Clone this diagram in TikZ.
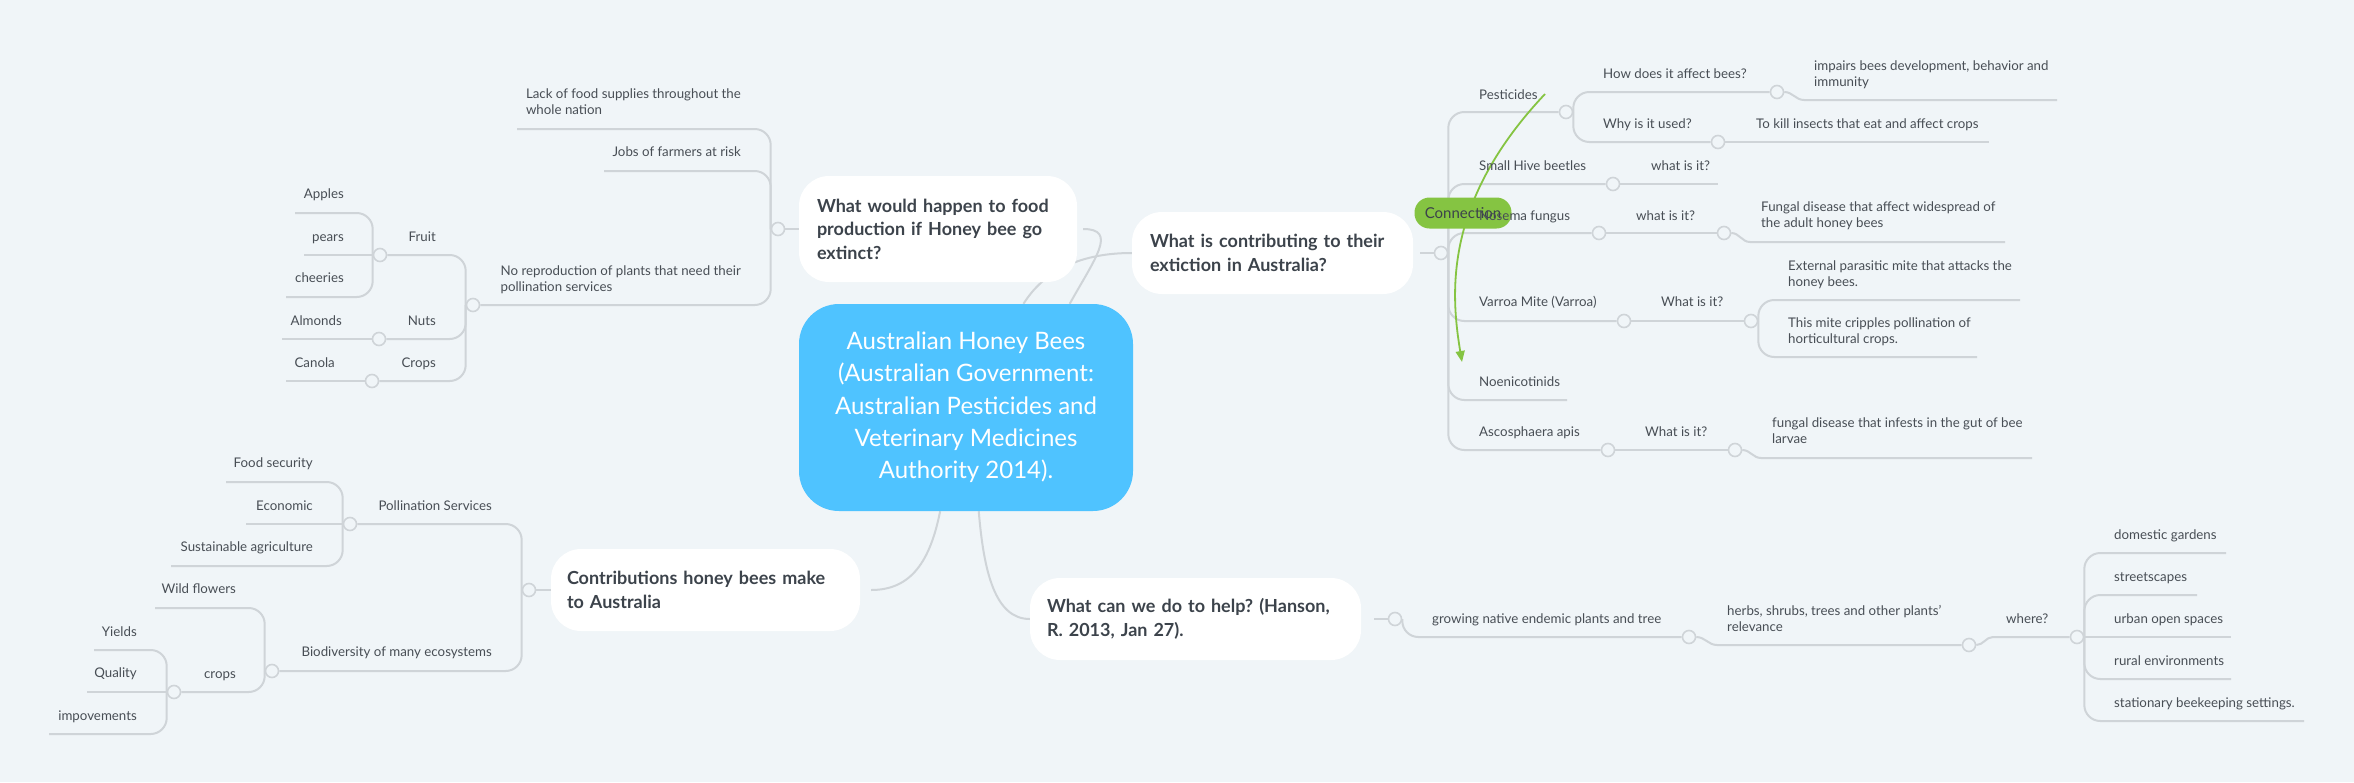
\documentclass[tikz,border=0pt]{standalone}
\usepackage{fontspec}
\setmainfont{Lato}
\usetikzlibrary{arrows.meta}
\definecolor{bg}{RGB}{240,245,248}
\definecolor{ln}{RGB}{207,212,216}
\definecolor{ink}{RGB}{60,67,75}
\definecolor{leafink}{RGB}{72,78,85}
\definecolor{hubblue}{RGB}{79,195,255}
\definecolor{conngreen}{RGB}{133,196,66}
\pgfdeclarelayer{back}
\pgfsetlayers{back,main}
\frenchspacing

\begin{document}
\begin{tikzpicture}
[x=1pt,y=-1pt,
 branch/.style={draw=ln,line width=2pt,rounded corners=16pt},
 slant/.style={branch,sharp corners},
 dot/.style={circle,draw=ln,line width=1.6pt,fill=bg,minimum size=13pt,inner sep=0pt},
 leaf/.style={text=leafink,font=\fontsize{13.3}{16}\selectfont,inner sep=0pt,align=left,anchor=base west},
 leafl/.style={leaf,anchor=base east},
 topic/.style={fill=white,text=ink,rounded corners=30pt,font=\bfseries\fontsize{18}{23.5}\selectfont,align=left,inner xsep=18pt,minimum height=82pt},
 hubbox/.style={fill=hubblue,text=white,rounded corners=40pt,minimum width=334pt,minimum height=207pt,align=center,font=\fontsize{24}{32.3}\selectfont},
 conn/.style={draw=conngreen,line width=1.8pt,-{Triangle[length=11pt,width=9pt]}},
 connlabel/.style={fill=conngreen,text=ink,rounded corners=15pt,minimum width=97pt,minimum height=31pt,font=\fontsize{15}{18}\selectfont}]

\begin{pgfonlayer}{back}
\fill[bg] (0,0) rectangle (2354,782); %paper
\end{pgfonlayer}
\useasboundingbox (0,0) rectangle (2354,782);

% main topics
\node[hubbox] (hub) at (966,407.5) {Australian Honey Bees\\(Australian Government:\\Australian Pesticides and\\Veterinary Medicines\\Authority 2014).};
\node[topic,text width=242pt,minimum height=106pt] (food) at (938,229) {What would happen to food\\production if Honey bee go\\extinct?};
\node[topic,text width=245pt] (why) at (1272.5,253) {What is contributing to their\\extiction in Australia?};
\node[topic,text width=277pt,inner xsep=16pt] (contrib) at (705.5,590) {Contributions honey bees make\\to Australia};
\node[topic,text width=297pt,inner xsep=17pt] (help) at (1195.5,619) {What can we do to help? (Hanson,\\R. 2013, Jan 27).};

% dots
\node[dot] (rdot) at (1441,253) {};
\node[dot] (pdot) at (1566,112) {};
\node[dot] (adot) at (1777,92) {};
\node[dot] (udot) at (1718,142) {};
\node[dot] (sdot) at (1613,184) {};
\node[dot] (ndot) at (1599,233) {};
\node[dot] (ndotb) at (1724,233) {};
\node[dot] (vdot) at (1624,321) {};
\node[dot] (vdotb) at (1751,321) {};
\node[dot] (asdot) at (1608,450) {};
\node[dot] (asdotb) at (1735,450) {};
\node[dot] (fdot) at (778,229) {};
\node[dot] (nrdot) at (473,305) {};
\node[dot] (frdot) at (380,255) {};
\node[dot] (nudot) at (379,339) {};
\node[dot] (crdot) at (372,381) {};
\node[dot] (cdot) at (529,590) {};
\node[dot] (podot) at (350,524) {};
\node[dot] (bidot) at (272,671) {};
\node[dot] (crpdot) at (174,692) {};
\node[dot] (hdot) at (1395,619) {};
\node[dot] (gdot) at (1689,637) {};
\node[dot] (hbdot) at (1969,645) {};
\node[dot] (wdot) at (2077,637) {};

% free ends of the underlines
\coordinate (impair) at (2057,100);
\coordinate (kill) at (1989,142);
\coordinate (hive) at (1718,184);
\coordinate (nosema) at (2005,242);
\coordinate (mite) at (2020,300);
\coordinate (cripple) at (1977,357);
\coordinate (neo) at (1567,400);
\coordinate (gut) at (2032,458);
\coordinate (lack) at (517,129);
\coordinate (jobs) at (604,171);
\coordinate (apples) at (295,213);
\coordinate (pears) at (304,255);
\coordinate (cheer) at (286,297);
\coordinate (almond) at (282,339);
\coordinate (canola) at (286,381);
\coordinate (foodsec) at (226,482);
\coordinate (econ) at (246,524);
\coordinate (sustain) at (171,566);
\coordinate (wild) at (155,608);
\coordinate (yields) at (94,650);
\coordinate (quality) at (87,692);
\coordinate (improve) at (49,734);
\coordinate (gardens) at (2226,553);
\coordinate (streets) at (2197,595);
\coordinate (urban) at (2231,637);
\coordinate (rural) at (2231,679);
\coordinate (station) at (2304,721);

\begin{pgfonlayer}{back}
\draw[slant] (hub.45) .. controls +(25,-45) and +(35,0) .. ([xshift=6pt]food.east);
\draw[slant] (hub.61) .. controls +(25,-40) and +(-40,0) .. (why.west);
\draw[slant] (hub.-104) .. controls +(-10,50) and +(40,0) .. ([xshift=11pt]contrib.east);
\draw[slant] (hub.-83) .. controls +(5,60) and +(-35,0) .. (help.west);

\draw[branch,shorten <=7pt] (why) -- (rdot);
\draw[branch] (rdot.east) |- (pdot); %pesticides
\draw[branch] (pdot.east) |- (adot);
\draw[slant] (adot) to[out=0,in=180] ++(27,8) -- (impair);
\draw[branch] (pdot.east) |- (udot);
\draw[branch] (udot) -- (kill);
\draw[branch] (rdot.east) |- (sdot); %beetles
\draw[branch] (sdot) -- (hive);
\draw[branch] (rdot.east) |- (ndot); %nosema
\draw[branch] (ndot) -- (ndotb);
\draw[slant] (ndotb) to[out=0,in=180] ++(26,9) -- (nosema);
\draw[branch] (rdot.east) |- (vdot); %varroa
\draw[branch] (vdot) -- (vdotb);
\draw[branch] (vdotb.east) |- (mite);
\draw[branch] (vdotb.east) |- (cripple);
\draw[branch] (rdot.east) |- (neo);
\draw[branch] (rdot.east) |- (asdot); %ascosphaera
\draw[branch] (asdot) -- (asdotb);
\draw[slant] (asdotb) to[out=0,in=180] ++(26,8) -- (gut);

\draw[branch] (food) -- (fdot);
\draw[branch] (fdot.west) |- (lack);
\draw[branch] (fdot.west) |- (jobs);
\draw[branch] (fdot.west) |- (nrdot);
\draw[branch] (nrdot.west) |- (frdot); %fruit
\draw[branch] (frdot.west) |- (apples);
\draw[branch] (frdot) -- (pears);
\draw[branch] (frdot.west) |- (cheer);
\draw[branch] (nrdot.west) |- (nudot); %nuts
\draw[branch] (nudot) -- (almond);
\draw[branch] (nrdot.west) |- (crdot); %crops
\draw[branch] (crdot) -- (canola);

\draw[branch] (contrib) -- (cdot);
\draw[branch] (cdot.west) |- (podot); %pollination
\draw[branch] (podot.west) |- (foodsec);
\draw[branch] (podot) -- (econ);
\draw[branch] (podot.west) |- (sustain);
\draw[branch] (cdot.west) |- (bidot); %biodiversity
\draw[branch] (bidot.west) |- (wild);
\draw[branch] (bidot.west) |- (crpdot);
\draw[branch] (crpdot.west) |- (yields);
\draw[branch] (crpdot) -- (quality);
\draw[branch] (crpdot.west) |- (improve);

\draw[branch,shorten <=13pt] (help) -- (hdot);
\draw[branch] (hdot.east) |- (gdot);
\draw[slant] (gdot) to[out=0,in=180] ++(28,8) -- (hbdot);
\draw[slant] (hbdot) to[out=0,in=180] ++(24,-8) -- (wdot);
\draw[branch] (wdot.east) |- (gardens);
\draw[branch] (wdot.east) |- (streets);
\draw[branch] (wdot) -- (urban);
\draw[branch] (wdot.east) |- (rural);
\draw[branch] (wdot.east) |- (station);
\end{pgfonlayer}

% connection
\coordinate (cfrom) at (1545,94);
\coordinate (cto) at (1462,362);
\draw[conn] (cfrom) .. controls (1445,200) and (1450,290) .. (cto);
\node[connlabel] (clabel) at (1463,213) {Connection};

% right side texts
\node[leaf] (pest) at (1479,99) {Pesticides};
\node[leaf] (howq) at (1603,78) {How does it affect bees?};
\node[leaf] (impairt) at (1814,86.5) {impairs bees development, behavior and\\immunity};
\node[leaf] (whyq) at (1603,128) {Why is it used?};
\node[leaf] (killt) at (1756,128) {To kill insects that eat and affect crops};
\node[leaf] (hivet) at (1479,170.5) {Small Hive beetles};
\node[leaf] (hiveq) at (1651,170.5) {what is it?};
\node[leaf] (nost) at (1479,220.5) {Nosema fungus};
\node[leaf] (nosq) at (1636,220.5) {what is it?};
\node[leaf] (nosa) at (1761,227.5) {Fungal disease that affect widespread of\\the adult honey bees};
\node[leaf] (vart) at (1479,306.5) {Varroa Mite (Varroa)};
\node[leaf] (varq) at (1661,306.5) {What is it?};
\node[leaf] (mitet) at (1788,286.5) {External parasitic mite that attacks the\\honey bees.};
\node[leaf] (cript) at (1788,343.5) {This mite cripples pollination of\\horticultural crops.};
\node[leaf] (neot) at (1479,386.5) {Noenicotinids};
\node[leaf] (asct) at (1479,436.5) {Ascosphaera apis};
\node[leaf] (ascq) at (1645,436.5) {What is it?};
\node[leaf] (gutt) at (1772,443.5) {fungal disease that infests in the gut of bee\\larvae};

% left top texts
\node[leafl] (lackt) at (741,114.5) {Lack of food supplies throughout the\\whole nation};
\node[leafl] (jobst) at (741,156.5) {Jobs of farmers at risk};
\node[leafl] (nrt) at (741,291.5) {No reproduction of plants that need their\\pollination services};
\node[leafl] (fruitt) at (436,241.5) {Fruit};
\node[leafl] (applet) at (344,198.5) {Apples};
\node[leafl] (peart) at (344,241.5) {pears};
\node[leafl] (cheert) at (344,282.5) {cheeries};
\node[leafl] (nutst) at (436,325.5) {Nuts};
\node[leafl] (almondt) at (342,325.5) {Almonds};
\node[leafl] (cropst) at (436,367.5) {Crops};
\node[leafl] (canolat) at (335,367.5) {Canola};

% left bottom texts
\node[leafl] (pollt) at (492,510.5) {Pollination Services};
\node[leafl] (foodsect) at (313,467.5) {Food security};
\node[leafl] (econt) at (313,510.5) {Economic};
\node[leafl] (sustaint) at (313,551.5) {Sustainable agriculture};
\node[leafl] (biot) at (492,656.5) {Biodiversity of many ecosystems};
\node[leafl] (wildt) at (236,593.5) {Wild flowers};
\node[leafl] (crpt) at (236,678.5) {crops};
\node[leafl] (yieldt) at (137,636.5) {Yields};
\node[leafl] (qualt) at (137,677.5) {Quality};
\node[leafl] (impt) at (137,720.5) {impovements};

% bottom right texts
\node[leaf] (growt) at (1432,623.5) {growing native endemic plants and tree};
\node[leaf] (herbt) at (1727,631.5) {herbs, shrubs, trees and other plants'\\relevance};
\node[leaf] (wheret) at (2006,623.5) {where?};
\node[leaf] (gardt) at (2114,539.5) {domestic gardens};
\node[leaf] (streett) at (2114,581.5) {streetscapes};
\node[leaf] (urbant) at (2114,623.5) {urban open spaces};
\node[leaf] (ruralt) at (2114,665.5) {rural environments};
\node[leaf] (statt) at (2114,707.5) {stationary beekeeping settings.};

\end{tikzpicture}
\end{document}
